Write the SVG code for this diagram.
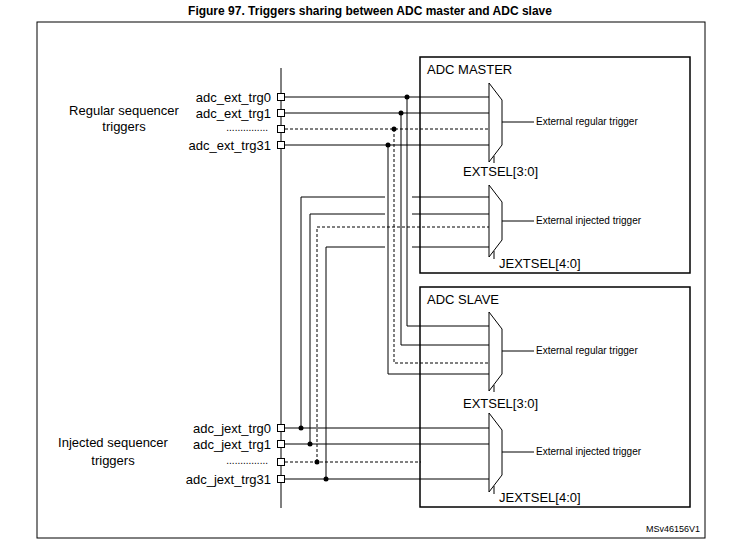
<svg xmlns="http://www.w3.org/2000/svg" width="741" height="548" viewBox="0 0 741 548">
<style>
text{font-family:"Liberation Sans",Arial,sans-serif;fill:#000}
.l{font-size:13px}
.s{font-size:10px}
.w{fill:none;stroke:#000;stroke-width:1}
.d{fill:none;stroke:#000;stroke-width:1;stroke-dasharray:3,2}
.b{fill:none;stroke:#000;stroke-width:1.5}
.m{fill:#fff;stroke:#000;stroke-width:1}
.sq{fill:#fff;stroke:#000;stroke-width:1}
</style>
<text x="370" y="15" text-anchor="middle" font-weight="bold" font-size="12">Figure 97. Triggers sharing between ADC master and ADC slave</text>
<rect x="37" y="22" width="668" height="516" class="w"/>
<text x="700" y="532" text-anchor="end" font-size="9">MSv46156V1</text>

<g id="master"><rect x="420" y="57" width="270" height="216" class="b"/><text x="427" y="74" class="l">ADC MASTER</text></g>
<g id="slave"><rect x="420" y="287" width="270" height="220" class="b"/><text x="427" y="304" class="l">ADC SLAVE</text></g>

<g id="bus"><line x1="281" y1="68" x2="281" y2="508" class="w"/></g>

<g id="connectors">
<line x1="285" y1="97" x2="489" y2="97" class="w"/>
<line x1="285" y1="113" x2="489" y2="113" class="w"/>
<line x1="285" y1="129" x2="489" y2="129" class="d"/>
<line x1="285" y1="145" x2="489" y2="145" class="w"/>
<polyline points="407,97 407,326 489,326" class="w"/>
<polyline points="401,113 401,345 489,345" class="w"/>
<polyline points="394,129 394,363 489,363" class="d"/>
<polyline points="388,145 388,374 489,374" class="w"/>
<circle cx="407" cy="97" r="2.5"/><circle cx="401" cy="113" r="2.5"/><circle cx="394" cy="129" r="2.5"/><circle cx="388" cy="145" r="2.5"/>
<polyline points="301,428 301,197 385,197" class="w"/><line x1="412" y1="197" x2="489" y2="197" class="w"/>
<polyline points="310,444 310,214 385,214" class="w"/><line x1="412" y1="214" x2="489" y2="214" class="w"/>
<polyline points="317,462 317,227 489,227" class="d"/>
<polyline points="326,479 326,247 385,247" class="w"/><line x1="412" y1="247" x2="489" y2="247" class="w"/>
<line x1="285" y1="428" x2="489" y2="428" class="w"/>
<line x1="285" y1="444" x2="489" y2="444" class="w"/>
<line x1="285" y1="462" x2="421" y2="462" class="d"/>
<line x1="285" y1="479" x2="489" y2="479" class="w"/>
<circle cx="301" cy="428" r="2.5"/><circle cx="310" cy="444" r="2.5"/><circle cx="317" cy="462" r="2.5"/><circle cx="326" cy="479" r="2.5"/>
<line x1="502" y1="122" x2="534" y2="122" class="w"/>
<line x1="502" y1="221" x2="534" y2="221" class="w"/>
<line x1="502" y1="351" x2="534" y2="351" class="w"/>
<line x1="502" y1="452" x2="534" y2="452" class="w"/>
</g>

<g id="muxes">
<polygon points="489,83 502,100 502,145 489,162" class="m"/><line x1="494" y1="156" x2="494" y2="163" class="w"/>
<polygon points="489,185 502,202 502,240 489,257" class="m"/><line x1="494" y1="251" x2="494" y2="259" class="w"/>
<polygon points="489,312 502,329 502,374 489,391" class="m"/><line x1="494" y1="385" x2="494" y2="392" class="w"/>
<polygon points="489,413 502,430 502,475 489,492" class="m"/><line x1="494" y1="486" x2="494" y2="494" class="w"/>
</g>

<g id="squares">
<rect x="277.5" y="93.5" width="7" height="7" class="sq"/>
<rect x="277.5" y="109.5" width="7" height="7" class="sq"/>
<rect x="277.5" y="125.5" width="7" height="7" class="sq"/>
<rect x="277.5" y="141.5" width="7" height="7" class="sq"/>
<rect x="277.5" y="424.5" width="7" height="7" class="sq"/>
<rect x="277.5" y="440.5" width="7" height="7" class="sq"/>
<rect x="277.5" y="458.5" width="7" height="7" class="sq"/>
<rect x="277.5" y="475.5" width="7" height="7" class="sq"/>
</g>

<g id="labels">
<text x="271" y="102" text-anchor="end" class="l">adc_ext_trg0</text>
<text x="271" y="118" text-anchor="end" class="l">adc_ext_trg1</text>
<text x="268" y="131" text-anchor="end" font-size="10">...............</text>
<text x="271" y="150" text-anchor="end" class="l">adc_ext_trg31</text>
<text x="124" y="115" text-anchor="middle" class="l">Regular sequencer</text>
<text x="124" y="131" text-anchor="middle" class="l">triggers</text>
<text x="271" y="433" text-anchor="end" class="l">adc_jext_trg0</text>
<text x="271" y="449" text-anchor="end" class="l">adc_jext_trg1</text>
<text x="268" y="464" text-anchor="end" font-size="10">...............</text>
<text x="271" y="484" text-anchor="end" class="l">adc_jext_trg31</text>
<text x="113" y="447" text-anchor="middle" class="l">Injected sequencer</text>
<text x="113" y="465" text-anchor="middle" class="l">triggers</text>
<text x="536" y="125" class="s">External regular trigger</text>
<text x="536" y="224" class="s">External injected trigger</text>
<text x="536" y="354" class="s">External regular trigger</text>
<text x="536" y="455" class="s">External injected trigger</text>
<text x="463" y="176" class="l">EXTSEL[3:0]</text>
<text x="499" y="268" class="l">JEXTSEL[4:0]</text>
<text x="463" y="408" class="l">EXTSEL[3:0]</text>
<text x="499" y="502" class="l">JEXTSEL[4:0]</text>
</g>
</svg>
